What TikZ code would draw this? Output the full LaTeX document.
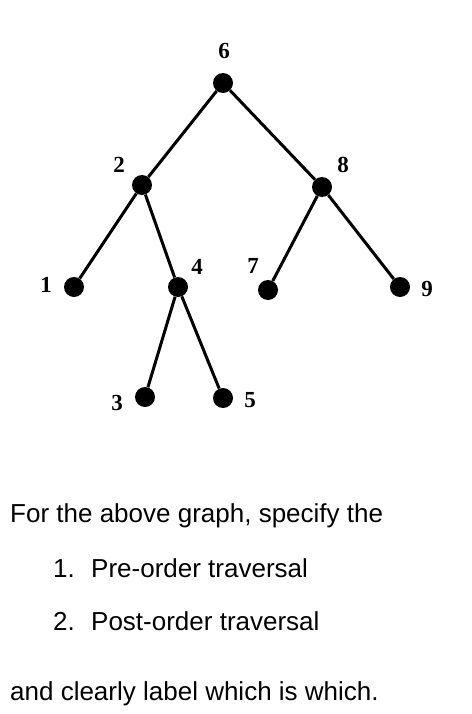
\documentclass[tikz,border=0pt]{standalone}
\usepackage{fontspec}
\setmainfont{Liberation Sans}
\newfontfamily\digitfont{Liberation Serif}
\usepackage{tikz}
\usetikzlibrary{positioning}

\begin{document}
\begin{tikzpicture}[x=1bp, y=-1bp,
    vertex/.style={circle, fill=black, inner sep=0pt, minimum size=20bp},
    numlabel/.style={font=\digitfont\bfseries\fontsize{23bp}{25bp}\selectfont, inner sep=0pt},
    edge/.style={line width=3bp, black},
    question/.style={font=\fontsize{26bp}{30bp}\selectfont, inner sep=0pt, anchor=base west}]
    \useasboundingbox (0,0) rectangle (472,714);
    % Tree vertices and their numbers
    \foreach \n/\x/\y/\lx/\ly in {6/223/83/224/51, 2/142/185/119/165,
      8/322/187/343/165, 1/74/287/46/285, 4/178/287/197/267,
      7/268/290/253/266, 9/400/287/427/289, 3/145/397/117/403,
      5/223/398/250/400}{
      \node[vertex] (v\n) at (\x,\y) {};
      \node[numlabel] (l\n) at (\lx,\ly) {\n};
    }
    % Edges
    \foreach \a/\b in {6/2, 6/8, 2/1, 2/4, 4/3, 4/5, 8/7, 8/9}
      \draw[edge] (v\a) -- (v\b);
    % Question text
    \node[question] (intro) at (10,522) {For the above graph, specify the};
    \node[question] (num1) at (53,577) {1.};
    \node[question] (item1) at (91,577) {Pre-order traversal};
    \node[question] (num2) at (53,630) {2.};
    \node[question] (item2) at (91,630) {Post-order traversal};
    \node[question] (outro) at (10,700) {and clearly label which is which.};
\end{tikzpicture}
\end{document}
